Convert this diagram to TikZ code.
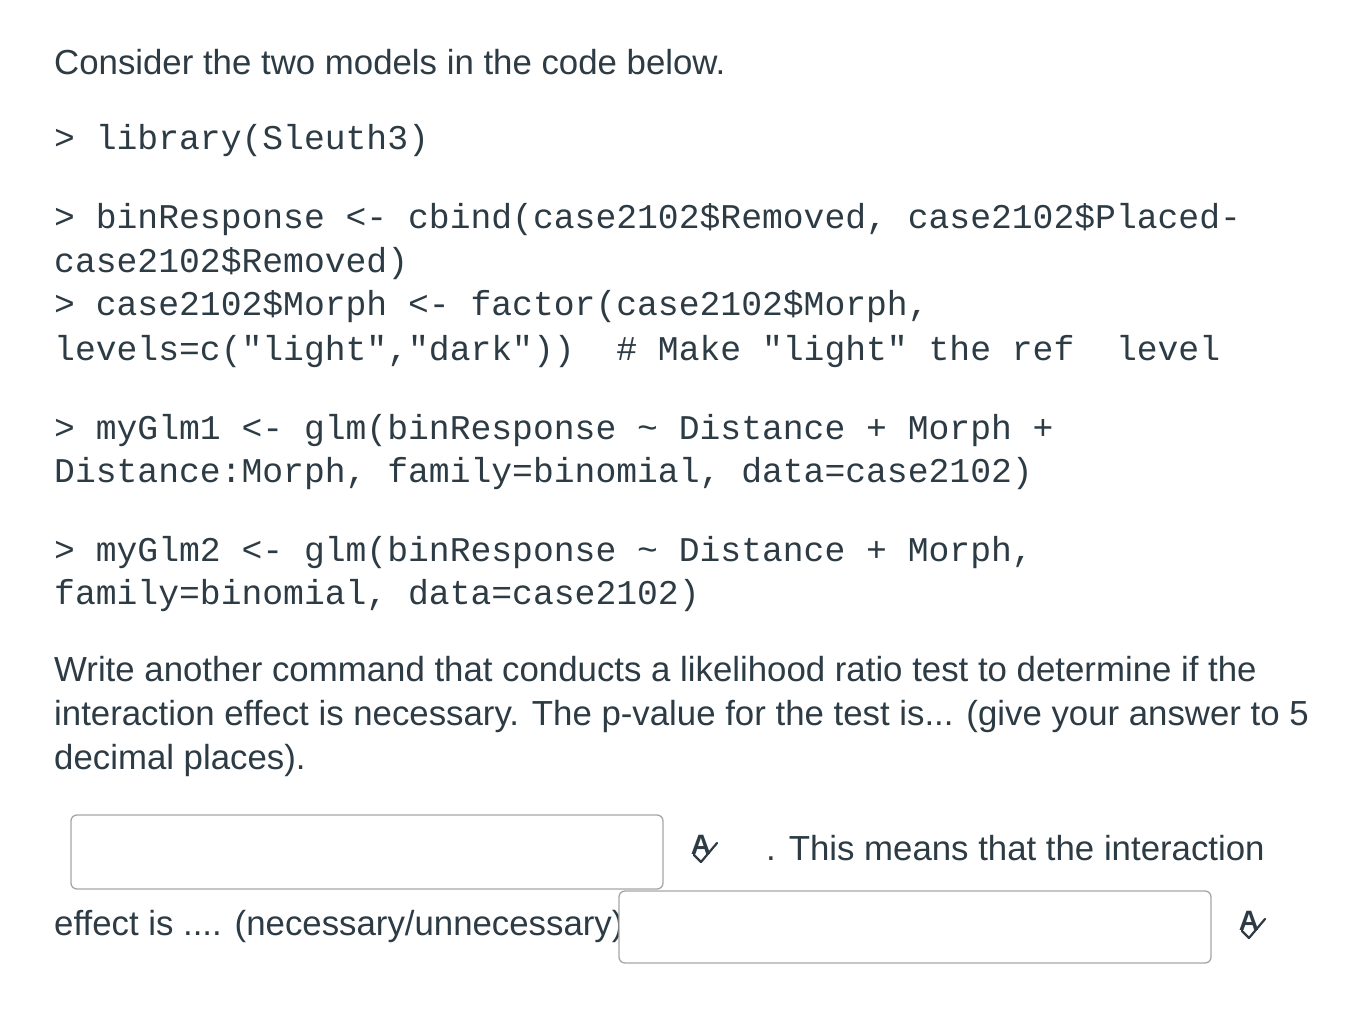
\documentclass[tikz,border=0pt]{standalone}
\usepackage{fontspec}
\setmainfont{Liberation Sans}
\newfontfamily\codefont{Liberation Mono}
\definecolor{txt}{HTML}{2D3B45}
\begin{document}
\begin{tikzpicture}[x=1pt,y=-1pt,
  body/.style={anchor=base west,inner sep=0pt,text=txt,font=\fontsize{34.8}{40}\selectfont},
  code/.style={anchor=base west,inner sep=0pt,text=txt,font=\codefont\fontsize{34.7}{44}\selectfont},
  inbox/.style={draw=gray!70,line width=1.3pt,rounded corners=6pt,fill=white}]
\useasboundingbox (0,0) rectangle (1366,1024);
\node[body] (t1) at (54,75) {Consider the two models in the code below.};
\node[code] (c1) at (54,150) {> library(Sleuth3)};
\node[code] (c2) at (54,229) {> binResponse <- cbind(case2102\$Removed, case2102\$Placed-};
\node[code] (c3) at (54,273) {case2102\$Removed)};
\node[code] (c4) at (54,316) {> case2102\$Morph <- factor(case2102\$Morph,};
\node[code] (c5) at (54,360) {levels=c("light","dark"))\ \ \# Make "light" the ref\ \ level};
\node[code] (c6) at (54,439) {> myGlm1 <- glm(binResponse \textasciitilde{} Distance + Morph +};
\node[code] (c7) at (54,482) {Distance:Morph, family=binomial, data=case2102)};
\node[code] (c8) at (54,561) {> myGlm2 <- glm(binResponse \textasciitilde{} Distance + Morph,};
\node[code] (c9) at (54,604) {family=binomial, data=case2102)};
\node[body] (w1) at (54,681) {Write another command that conducts a likelihood ratio test to determine if the};
\node[body] (w2) at (54,725) {interaction effect is necessary. The p-value for the test is... (give your answer to 5};
\node[body] (w3) at (54,769) {decimal places).};
\draw[inbox] (71,815) rectangle (663,889);
\node[body] (m1) at (766,860) {. This means that the interaction};
\node[body] (e1) at (54,935) {effect is .... (necessary/unnecessary)};
\draw[inbox] (619,891) rectangle (1211,963);
\foreach \n/\x/\y in {ia/705/850, ib/1253/926}{
  \node[anchor=center,inner sep=0pt,text=txt,font=\bfseries\fontsize{28}{28}\selectfont] (\n) at (\x-4,\y-5) {A};
  \draw[txt,line width=2.2pt,line cap=round,line join=round] (\x-11,\y+5) -- (\x-4,\y+12) -- (\x+12,\y-7);
}
\end{tikzpicture}
\end{document}
